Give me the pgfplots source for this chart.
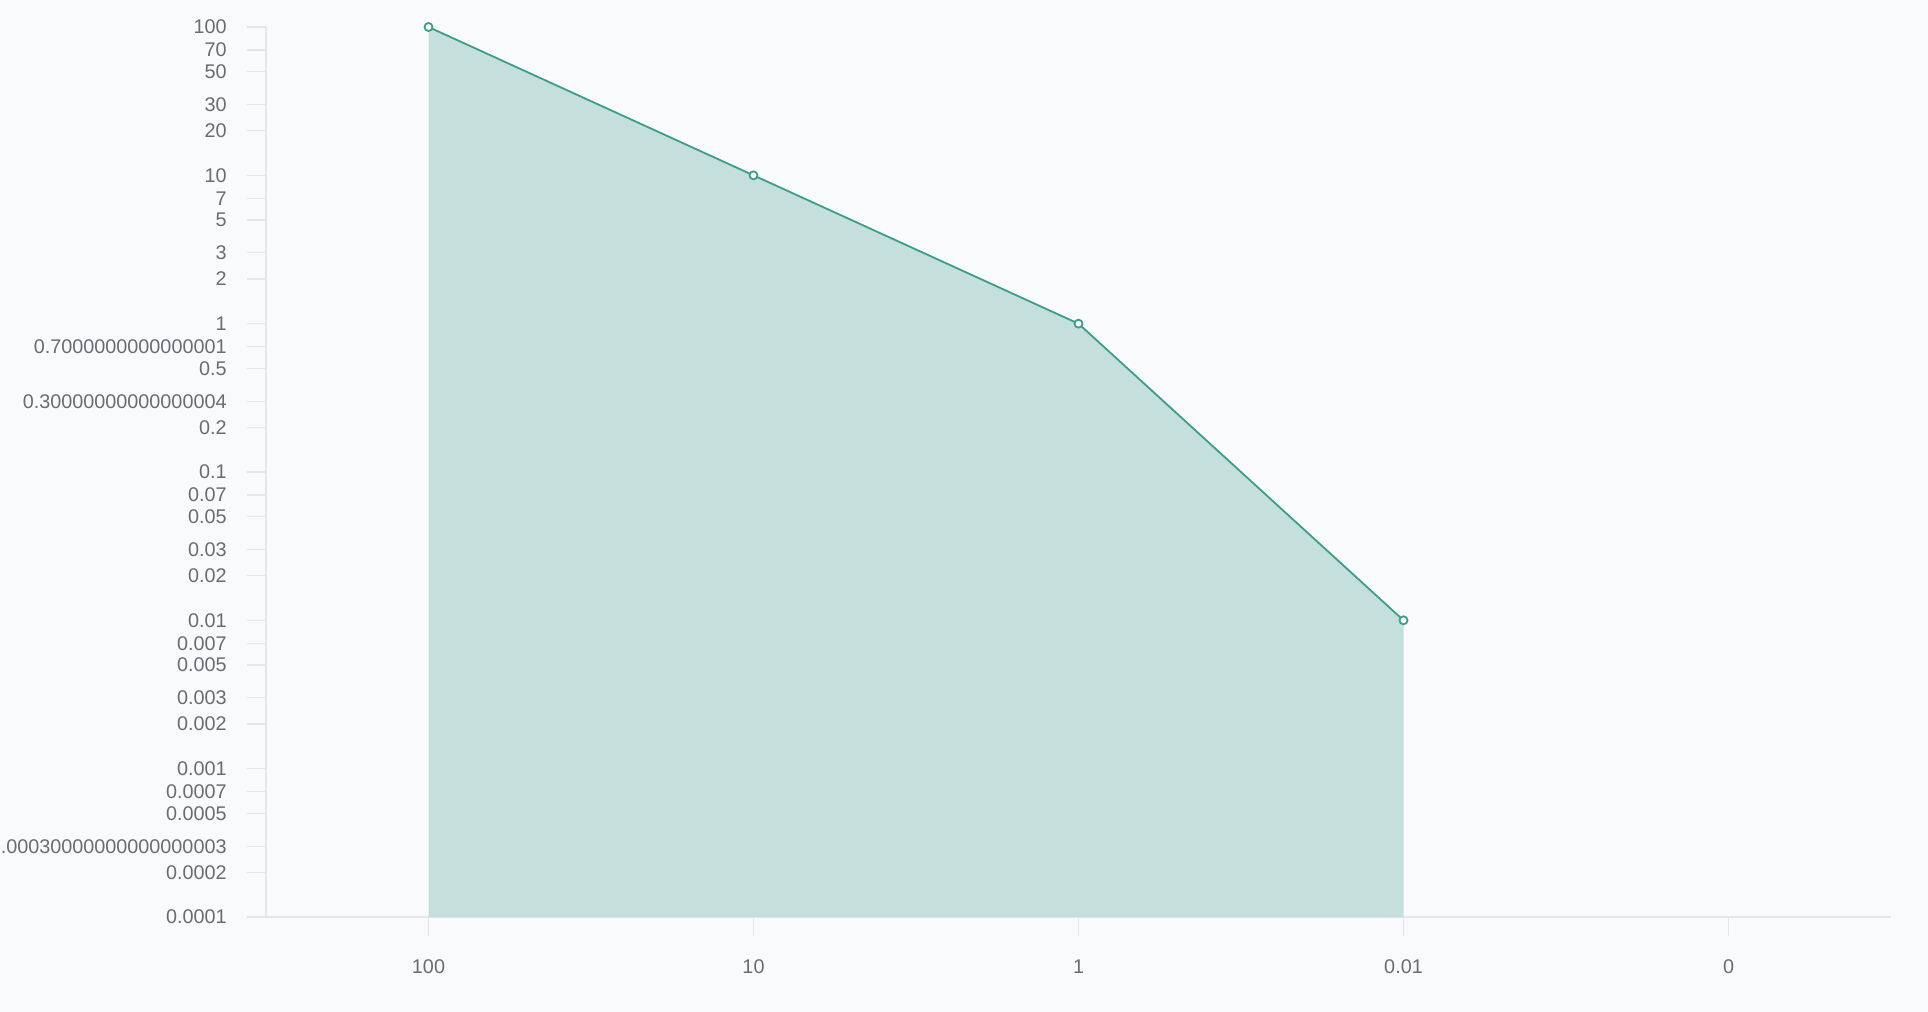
\documentclass[border=0pt]{standalone}
\usepackage{pgfplots}
\pgfplotsset{compat=1.18}
\usepackage{fontspec}
\setmainfont{Liberation Sans}
\definecolor{bgc}{HTML}{F9FAFC}
\definecolor{linec}{HTML}{3C9E8A}
\definecolor{fillc}{HTML}{C5E0DC}
\definecolor{axisc}{HTML}{E3E6EC}
\definecolor{labelc}{HTML}{6A6C74}
\begin{document}
\begin{tikzpicture}
  % page: 1928x1012 px, 1 px = 0.5 pt
  \fill[bgc] (0,0) rectangle (964pt,506pt);
  \begin{axis}[
    at={(133pt,47.5pt)}, anchor=south west,
    scale only axis,
    width=812.5pt, height=445pt,
    ymode=log,
    xmin=-0.5, xmax=4.5,
    ymin=0.0001, ymax=100,
    axis x line*=bottom,
    axis y line*=left,
    axis line style={draw=axisc, line width=0.6pt},
    tick align=outside,
    major tick length=9.5pt,
    minor tick num=0,
    tick style={draw=axisc, line width=0.6pt},
    xtick={0,1,2,3,4},
    xticklabels={100,10,1,0.01,0},
    ytick={100,70,50,30,20,10,7,5,3,2,1,0.7,0.5,0.3,0.2,0.1,0.07,0.05,0.03,0.02,0.01,0.007,0.005,0.003,0.002,0.001,0.0007,0.0005,0.0003,0.0002,0.0001},
    yticklabels={100,70,50,30,20,10,7,5,3,2,1,0.7000000000000001,0.5,0.30000000000000004,0.2,0.1,0.07,0.05,0.03,0.02,0.01,0.007,0.005,0.003,0.002,0.001,0.0007,0.0005,0.00030000000000000003,0.0002,0.0001},
    ticklabel style={font=\fontsize{9.9}{11}\selectfont, text=labelc},
    yticklabel style={anchor=east, inner sep=0pt, xshift=-10pt},
    xticklabel style={anchor=center, inner sep=0pt, yshift=-15.5pt},
    clip=false,
  ]
    % area below the series
    \addplot[fill=fillc, draw=none] coordinates {
      (0,0.0001) (0,100) (1,10) (2,1) (3,0.01) (3,0.0001)
    } -- cycle;
    % series
    \addplot[color=linec, line width=0.9pt, mark=*, mark size=2pt,
      mark options={fill=white, draw=linec, line width=0.9pt}] coordinates {
      (0,100) (1,10) (2,1) (3,0.01)
    };
  \end{axis}
  \pgfresetboundingbox
  \useasboundingbox (0,0) rectangle (964pt,506pt);
\end{tikzpicture}
\end{document}
